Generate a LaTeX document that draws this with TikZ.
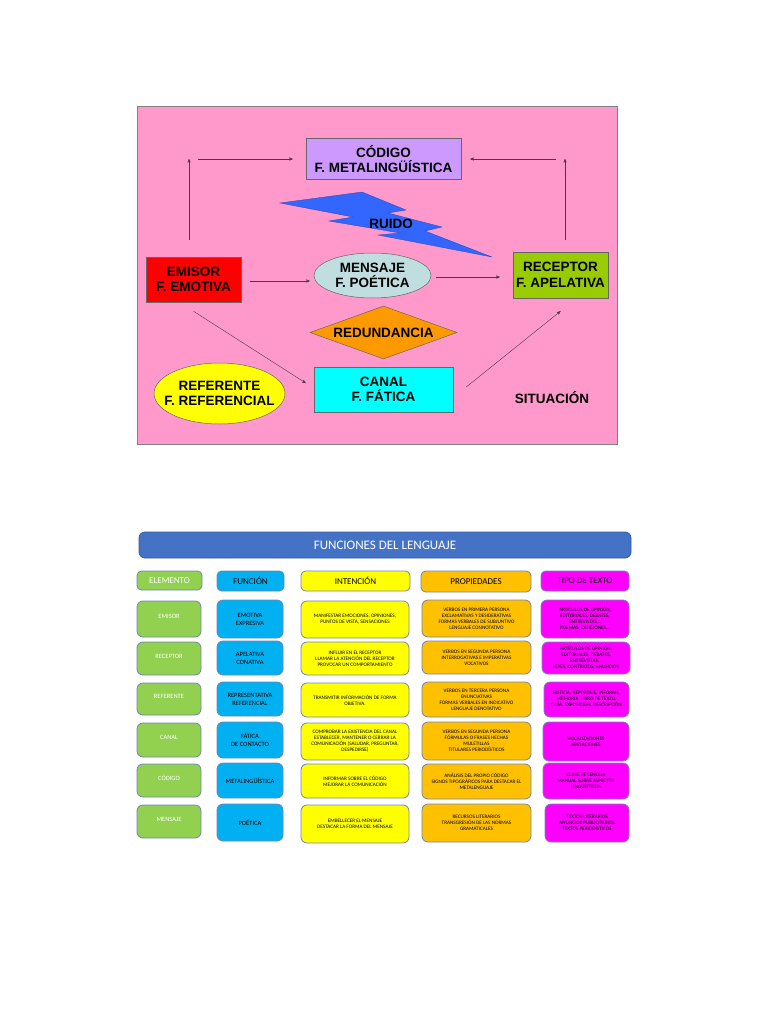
\documentclass[tikz,border=0pt]{standalone}
\usepackage{fontspec}
\setmainfont{Liberation Sans}
\newfontfamily\tabla{Carlito}
\usepackage{xcolor}
\usepackage{tikz}
\usetikzlibrary{arrows,shapes.geometric}

\definecolor{rosa}{HTML}{FF99CC}
\definecolor{lila}{HTML}{CC99FF}
\definecolor{rojo}{HTML}{FF0000}
\definecolor{verdeosc}{HTML}{99CC00}
\definecolor{celeste}{HTML}{C0DEE0}
\definecolor{naranja}{HTML}{FF9900}
\definecolor{turquesa}{HTML}{00FFFF}
\definecolor{amarillo}{HTML}{FFFF00}
\definecolor{fucsia}{HTML}{FF00FF}
\definecolor{rayo}{HTML}{3366FF}
\definecolor{titulo}{HTML}{4472C4}
\definecolor{verde}{HTML}{92D050}
\definecolor{azul}{HTML}{00B0F0}
\definecolor{oro}{HTML}{FFC000}
\definecolor{borde}{HTML}{6F86B8}

\tikzset{
	flecha/.style = {->,>=stealth',line width=0.4pt,draw=black!75},
	texto/.style = {font=\fontsize{13.5}{15.5}\selectfont\bfseries,align=center,text=black},
	caja/.style = {texto,rectangle,draw=black!60,line width=0.5pt,inner sep=0pt},
	elipse/.style = {texto,ellipse,draw=black!60,line width=0.5pt,inner ysep=0pt,inner xsep=-25pt},
	celda/.style = {rectangle,rounded corners=6pt,draw=borde,line width=0.8pt,inner sep=0pt,align=center,text=black,font=\tabla\fontsize{5.2}{6}\selectfont},
	cabecera/.style = {celda,rounded corners=4.5pt,font=\tabla\fontsize{9}{10}\selectfont},
	elem/.style = {celda,fill=verde,text=white,font=\tabla\fontsize{6.5}{7}\selectfont,minimum width=64pt,text depth=5pt},
	func/.style = {celda,fill=azul,font=\tabla\fontsize{6.5}{8}\selectfont,minimum width=66pt},
	inten/.style = {celda,fill=amarillo,minimum width=108pt},
	prop/.style = {celda,fill=oro,minimum width=109pt},
	tipo/.style = {celda,fill=fucsia}
}

\begin{document}
\begin{tikzpicture}[x=1pt,y=-1pt]
\useasboundingbox (0,0) rectangle (768,1024);
	% esquema
	\fill[rosa,draw=black!50,line width=0.5pt] (137,106) rectangle (617,444);
	\node[caja,fill=lila,minimum width=155pt,minimum height=41pt] (codigo) at (383.5,159) {CÓDIGO\\F. METALINGÜÍSTICA};
	\node[caja,fill=rojo,minimum width=95pt,minimum height=45pt] (emisor) at (193.5,279.5) {EMISOR\\F. EMOTIVA};
	\node[elipse,fill=celeste,minimum width=117pt,minimum height=45pt] (mensaje) at (372.5,275.5) {MENSAJE\\F. POÉTICA};
	\node[caja,fill=verdeosc,minimum width=95pt,minimum height=46pt] (receptor) at (560.5,275) {RECEPTOR\\F. APELATIVA};
	\node[texto,diamond,shape aspect=2.77,fill=naranja,draw=black!60,line width=0.5pt,inner sep=0pt,minimum width=147pt,minimum height=53pt] (redundancia) at (383.5,332.5) {REDUNDANCIA};
	\node[caja,fill=turquesa,minimum width=139pt,minimum height=45pt] (canal) at (383.5,389.5) {CANAL\\F. FÁTICA};
	\node[elipse,fill=amarillo,minimum width=131pt,minimum height=61pt] (referente) at (219.5,393.5) {REFERENTE\\F. REFERENCIAL};
	\node[texto] (situacion) at (552,398) {SITUACIÓN};
	\fill[rayo,draw=rayo!70!black,line width=0.3pt] (280,203) -- (362,192) -- (406,210) -- (388,213) -- (442,227) -- (425,231) -- (492,257) -- (378,235) -- (400,233) -- (329,221) -- (353,217) -- cycle;
	\node[texto] (ruido) at (391,224) {RUIDO};
	\coordinate (esqizq) at (189,159);
	\coordinate (esqder) at (565,159);
	\draw[flecha] ([xshift=-4.5pt,yshift=17pt]emisor.north) -- (esqizq);
	\draw[flecha] ([xshift=9pt]esqizq) -- ([xshift=-13pt]codigo.west);
	\draw[flecha] ([xshift=4.5pt,yshift=12pt]receptor.north) -- (esqder);
	\draw[flecha] ([xshift=-9pt]esqder) -- ([xshift=9pt]codigo.east);
	\draw[flecha] ([xshift=9pt,yshift=-1.5pt]emisor.east) -- ([xshift=-4pt,yshift=-5.5pt]mensaje.west);
	\draw[flecha] ([xshift=5pt,yshift=-1.5pt]mensaje.east) -- ([xshift=-13pt,yshift=-2pt]receptor.west);
	\draw[flecha] ([yshift=-9pt]emisor.south) -- ([xshift=-8pt,yshift=6.5pt]canal.west);
	\draw[flecha] ([xshift=13pt,yshift=2.5pt]canal.east) -- ([yshift=-13pt]receptor.south);
	% tabla
	\node[celda,fill=titulo,text=white,draw=titulo!80!black,font=\tabla\fontsize{13}{15}\selectfont,minimum width=492pt,minimum height=26pt] (cabtitulo) at (385,545) {FUNCIONES DEL LENGUAJE};
	\node[cabecera,fill=verde,text=white,minimum width=65pt,minimum height=19pt] (cabelem) at (169.5,580.5) {ELEMENTO};
	\node[cabecera,fill=azul,minimum width=67pt,minimum height=20pt] (cabfunc) at (250.5,581) {FUNCIÓN};
	\node[cabecera,fill=amarillo,minimum width=109pt,minimum height=20pt] (cabinten) at (355.5,581) {INTENCIÓN};
	\node[cabecera,fill=oro,minimum width=110pt,minimum height=21pt] (cabprop) at (476,581.5) {PROPIEDADES};
	\node[cabecera,fill=fucsia,minimum width=88pt,minimum height=20pt] (cabtipo) at (585,581) {TIPO DE TEXTO};
	% elemento
	\node[elem,minimum height=36pt] (elem1) at (169,619) {EMISOR};
	\node[elem,minimum height=33pt] (elem2) at (169,658.5) {RECEPTOR};
	\node[elem,minimum height=32pt] (elem3) at (169,699) {REFERENTE};
	\node[elem,minimum height=34pt] (elem4) at (169,740) {CANAL};
	\node[elem,minimum height=33pt] (elem5) at (169,780.5) {CÓDIGO};
	\node[elem,minimum height=33pt] (elem6) at (169,821.5) {MENSAJE};
	% funcion
	\node[func,minimum height=38pt] (func1) at (250,619) {EMOTIVA\\EXPRESIVA};
	\node[func,minimum height=34pt] (func2) at (250,658) {APELATIVA\\CONATIVA};
	\node[func,minimum height=34pt] (func3) at (250,699) {REPRESENTATIVA\\REFERENCIAL};
	\node[func,minimum height=36pt] (func4) at (250,740) {FÁTICA\\DE CONTACTO};
	\node[func,minimum height=35pt] (func5) at (250,780.5) {METALINGÜÍSTICA};
	\node[func,minimum height=37pt] (func6) at (250,822.5) {POÉTICA};
	% intencion
	\node[inten,minimum height=37pt] (inten1) at (355,619.5) {MANIFESTAR EMOCIONES, OPINIONES,\\PUNTOS DE VISTA, SENSACIONES};
	\node[inten,minimum height=33pt] (inten2) at (355,658.5) {INFLUIR EN EL RECEPTOR\\LLAMAR LA ATENCIÓN DEL RECEPTOR\\PROVOCAR UN COMPORTAMIENTO};
	\node[inten,minimum height=34pt] (inten3) at (355,700) {TRANSMITIR INFORMACIÓN DE FORMA\\OBJETIVA.};
	\node[inten,minimum height=37pt] (inten4) at (355,741.5) {COMPROBAR LA EXISTENCIA DEL CANAL\\ESTABLECER, MANTENER O CERRAR LA\\COMUNICACIÓN (SALUDAR, PREGUNTAR,\\DESPEDIRSE)};
	\node[inten,minimum height=34pt] (inten5) at (355,781) {INFORMAR SOBRE EL CÓDIGO\\MEJORAR LA COMUNICACIÓN};
	\node[inten,minimum height=38pt] (inten6) at (355,824) {EMBELLECER EL MENSAJE\\DESTACAR LA FORMA DEL MENSAJE};
	% propiedades
	\node[prop,minimum height=37pt] (prop1) at (476.5,618.5) {VERBOS EN PRIMERA PERSONA\\EXCLAMATIVAS Y DESIDERATIVAS\\FORMAS VERBALES DE SUBJUNTIVO\\LENGUAJE CONNOTATIVO};
	\node[prop,minimum height=33pt] (prop2) at (476.5,657.5) {VERBOS EN SEGUNDA PERSONA\\INTERROGATIVAS E IMPERATIVAS\\VOCATIVOS};
	\node[prop,minimum height=35pt] (prop3) at (476.5,699.5) {VERBOS EN TERCERA PERSONA\\ENUNCIATIVAS\\FORMAS VERBALES EN INDICATIVO\\LENGUAJE DENOTATIVO};
	\node[prop,minimum height=38pt] (prop4) at (476.5,741) {VERBOS EN SEGUNDA PERSONA\\FÓRMULAS O FRASES HECHAS\\MULETILLAS\\TITULARES PERIODÍSTICOS};
	\node[prop,minimum height=35pt] (prop5) at (476.5,781.5) {ANÁLISIS DEL PROPIO CÓDIGO\\SIGNOS TIPOGRÁFICOS PARA DESTACAR EL\\METALENGUAJE};
	\node[prop,minimum height=38pt] (prop6) at (476.5,823) {RECURSOS LITERARIOS\\TRANSGRESIÓN DE LAS NORMAS\\GRAMATICALES};
	% tipo de texto
	\node[tipo,minimum width=88pt,minimum height=38pt] (tipo1) at (585,619) {ARTÍCULOS DE OPINIÓN,\\EDITORIALES, DEBATES,\\ENTREVISTAS...\\POEMAS, CANCIONES...};
	\node[tipo,minimum width=88pt,minimum height=32pt] (tipo2) at (586,658) {ARTÍCULOS DE OPINIÓN,\\EDITORIALES, DEBATES,\\ENTREVISTAS...\\LEYES, CONTRATOS, ANUNCIOS};
	\node[tipo,minimum width=85pt,minimum height=35pt] (tipo3) at (586.5,699.5) {NOTICIA, REPORTAJE, INFORME,\\MEMORIA, LIBRO DE TEXTO,\\GUÍA, EXPOSICIÓN, DESCRIPCIÓN};
	\node[tipo,minimum width=86pt,minimum height=39pt] (tipo4) at (586,741.5) {VOCALIZACIONES\\APELACIONES};
	\node[tipo,minimum width=86pt,minimum height=36pt] (tipo5) at (586,781) {CLASE DE LENGUA\\MANUAL SOBRE ASPECTOS\\LINGÜÍSTICOS};
	\node[tipo,minimum width=84pt,minimum height=38pt] (tipo6) at (587,823) {TEXTOS LITERARIOS\\ANUNCIOS PUBLICITARIOS\\TEXTOS PERIODÍSTICOS};
\end{tikzpicture}
\end{document}
